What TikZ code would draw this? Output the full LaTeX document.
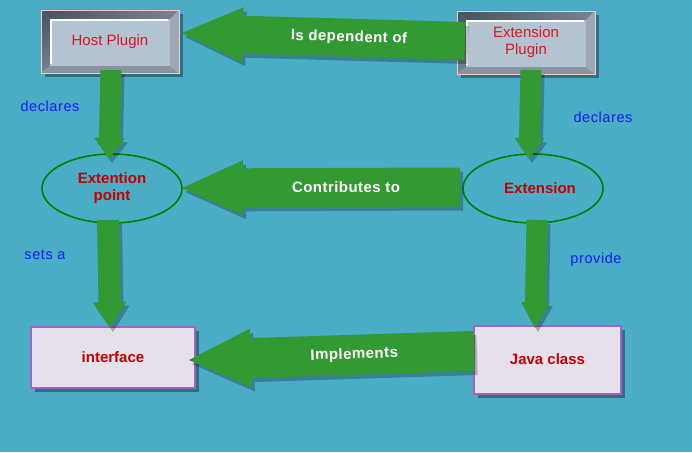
\documentclass[tikz,border=0pt]{standalone}
\usepackage{fontspec}
\setmainfont{Liberation Sans}
\newfontfamily\arrfont[LetterSpace=3]{Liberation Sans}
\newfontfamily\lblfont[LetterSpace=4]{Liberation Sans}
\usetikzlibrary{calc,shapes.geometric,shadows}
\definecolor{bg}{RGB}{75,172,198}
\definecolor{arrgreen}{RGB}{51,153,51}
\definecolor{panel}{RGB}{180,195,208}
\definecolor{lav}{RGB}{230,224,236}
\definecolor{purp}{RGB}{160,100,200}
\definecolor{ellgreen}{RGB}{0,128,0}
\definecolor{txtred}{RGB}{196,0,0}
\definecolor{plugred}{RGB}{220,20,40}
\definecolor{lblblue}{RGB}{20,30,240}
\definecolor{bevdark}{RGB}{72,82,98}
\definecolor{bevmid}{RGB}{120,132,146}
\definecolor{bevbot}{RGB}{138,148,160}
\definecolor{bevright}{RGB}{158,168,180}
\definecolor{rimpink}{RGB}{240,205,205}
\newcommand\fatarrow[5]{%
  \coordinate (fa-h) at ($(#2)!#5!(#1)$);
  \fill[arrshadow, transform canvas={shift={(3pt,-4pt)}}]
    ($(#1)!#3!90:(#2)$) -- ($(fa-h)!#3!90:(#2)$) -- ($(fa-h)!#4!90:(#2)$) -- (#2)
    -- ($(fa-h)!#4!-90:(#2)$) -- ($(fa-h)!#3!-90:(#2)$) -- ($(#1)!#3!-90:(#2)$) -- cycle;
  \fill[arrbody]
    ($(#1)!#3!90:(#2)$) -- ($(fa-h)!#3!90:(#2)$) -- ($(fa-h)!#4!90:(#2)$) -- (#2)
    -- ($(fa-h)!#4!-90:(#2)$) -- ($(fa-h)!#3!-90:(#2)$) -- ($(#1)!#3!-90:(#2)$) -- cycle;
}
\tikzset{
  arrbody/.style={fill=arrgreen},
  arrshadow/.style={fill=black, opacity=0.25},
  bevelbox/.style={rectangle, minimum width=138pt, minimum height=63pt, inner sep=0pt,
    fill=panel, draw=rimpink, line width=0.8pt, text=plugred, align=center,
    font=\fontsize{15}{17}\selectfont,
    drop shadow={shadow xshift=4pt, shadow yshift=-4pt, opacity=0.35, fill=black},
    path picture={
      \path (path picture bounding box.north west) coordinate (bnw)
            (path picture bounding box.north east) coordinate (bne)
            (path picture bounding box.south west) coordinate (bsw)
            (path picture bounding box.south east) coordinate (bse);
      \shade[left color=bevdark, right color=bevmid] (bnw) -- (bne) -- ($(bne)+(-9pt,-9pt)$) -- ($(bnw)+(9pt,-9pt)$) -- cycle;
      \shade[top color=bevdark, bottom color=bevmid] (bnw) -- ($(bnw)+(9pt,-9pt)$) -- ($(bsw)+(9pt,7pt)$) -- (bsw) -- cycle;
      \fill[bevbot] (bsw) -- ($(bsw)+(9pt,7pt)$) -- ($(bse)+(-9pt,7pt)$) -- (bse) -- cycle;
      \fill[bevright] (bne) -- (bse) -- ($(bse)+(-9pt,7pt)$) -- ($(bne)+(-9pt,-9pt)$) -- cycle;
      \draw[white, line width=1.8pt] ($(bsw)+(10pt,9pt)$) -- ($(bnw)+(10pt,-10pt)$) -- ($(bne)+(-11pt,-10pt)$);
    }},
  ellnode/.style={ellipse, minimum width=140pt, minimum height=69pt, inner sep=0pt,
    draw=ellgreen, line width=1.6pt, text=txtred, align=center,
    font=\fontsize{15}{17}\selectfont\bfseries},
  lowbox/.style={rectangle, inner sep=0pt, fill=lav, draw=purp, line width=2.2pt,
    text=txtred, font=\fontsize{15}{17}\selectfont\bfseries,
    drop shadow={shadow xshift=4pt, shadow yshift=-4pt, opacity=0.35, fill=black}},
  bluelbl/.style={text=lblblue, font=\fontsize{14.5}{16}\lblfont, inner sep=0pt},
  arrlbl/.style={text=white, font=\fontsize{15}{17}\arrfont\bfseries, inner sep=0pt},
}
\begin{document}
\begin{tikzpicture}[x=1pt,y=-1pt]
\useasboundingbox (0,0) rectangle (692,452);
\fill[bg] (0,0) rectangle (692,452);

% nodes
\node[bevelbox] (host) at (110,41.5) {Host Plugin};
\node[bevelbox] (extplug) at (526,42.5) {Extension\\Plugin};
\node[ellnode] (extpt) at (112,188.5) {Extention\\point};
\node[ellnode] (ext) at (533,188.5) {\hspace*{14pt}Extension};
\node[lowbox, minimum width=164pt, minimum height=61pt] (iface) at (113,357.5) {\raisebox{-3pt}{interface}};
\node[lowbox, minimum width=147pt, minimum height=68pt] (java) at (547.5,360) {\raisebox{2pt}{Java class}};

% side labels
\node[bluelbl] (lbl1) at (50,106) {declares};
\node[bluelbl] (lbl2) at (603,117) {declares};
\node[bluelbl] (lbl3) at (45,255) {sets a};
\node[bluelbl] (lbl4) at (596,260) {provide};

% arrow end points
\coordinate (a1t) at (465,41);  \coordinate (a1h) at (182,33);
\coordinate (a2t) at (460,187); \coordinate (a2h) at (182,188);
\coordinate (a3t) at (474,351); \coordinate (a3h) at (189,360);
\coordinate (d1t) at (111,70);  \coordinate (d1h) at (109,159);
\coordinate (d2t) at (531,70);  \coordinate (d2h) at (529,159);
\coordinate (d3t) at (108,220); \coordinate (d3h) at (110,328);
\coordinate (d4t) at (537,220); \coordinate (d4h) at (535,328);

% fat arrows
\fatarrow{d1t}{d1h}{10.5pt}{15.5pt}{21pt}
\fatarrow{d2t}{d2h}{10.5pt}{15pt}{21pt}
\fatarrow{d3t}{d3h}{11pt}{17pt}{26pt}
\fatarrow{d4t}{d4h}{10.5pt}{14.5pt}{26pt}
\fatarrow{a1t}{a1h}{19pt}{27.5pt}{61pt}
\fatarrow{a2t}{a2h}{19.5pt}{27.5pt}{61pt}
\fatarrow{a3t}{a3h}{20pt}{29.5pt}{62pt}

% arrow labels
\path (a1t) -- node[pos=0.41, sloped, arrlbl] (t1) {Is dependent of} (a1h);
\path (a2t) -- node[pos=0.41, sloped, arrlbl] (t2) {Contributes to} (a2h);
\path (a3t) -- node[pos=0.42, sloped, arrlbl] (t3) {Implements} (a3h);
\end{tikzpicture}
\end{document}
